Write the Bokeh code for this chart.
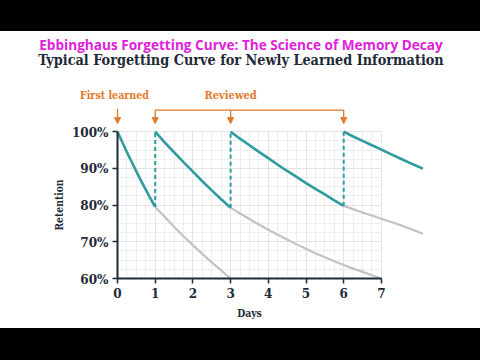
from bokeh.plotting import figure
from bokeh.models import (Label, Arrow, NormalHead, SingleIntervalTicker,
                          PrintfTickFormatter, Range1d, Div)
from bokeh.layouts import column
from bokeh.embed import file_html
from bokeh.resources import INLINE

# ---------------- data ----------------
# first learning (teal) and its forgetting without review (grey)
learn_days = [0, 0.125, 0.25, 0.375, 0.5, 0.625, 0.75, 0.875, 1.0]
learn_ret = [100, 97.2, 94.4, 91.8, 89.2, 86.6, 84.2, 81.8, 79.5]
forget1_days = [1, 1.25, 1.5, 1.75, 2, 2.25, 2.5, 2.75, 3]
forget1_ret = [79.5, 76.8, 74.1, 71.5, 69.1, 66.7, 64.4, 62.2, 60.0]

# after 1st review (day 1)
rev1_days = [1, 1.25, 1.5, 1.75, 2, 2.25, 2.5, 2.75, 3]
rev1_ret = [100, 97.1, 94.4, 91.7, 89.1, 86.5, 84.0, 81.6, 79.3]
forget2_days = [3, 3.25, 3.5, 3.75, 4, 4.25, 4.5, 4.75, 5, 5.25, 5.5, 5.75,
                6, 6.25, 6.5, 6.75, 7]
forget2_ret = [79.3, 77.7, 76.2, 74.7, 73.3, 71.9, 70.6, 69.3, 68.1, 66.9, 65.8,
               64.7, 63.7, 62.7, 61.8, 60.9, 60.0]

# after 2nd review (day 3)
rev2_days = [3, 3.25, 3.5, 3.75, 4, 4.25, 4.5, 4.75, 5, 5.25, 5.5, 5.75, 6]
rev2_ret = [100, 98.1, 96.3, 94.5, 92.8, 91.0, 89.3, 87.7, 86.0, 84.4, 82.9,
            81.3, 79.8]
forget3_days = [6, 6.5, 7, 7.5, 8, 8.1]
forget3_ret = [79.8, 78.0, 76.3, 74.6, 72.6, 72.2]

# after 3rd review (day 6)
rev3_days = [6, 6.25, 6.5, 6.75, 7, 7.25, 7.5, 7.75, 8, 8.1]
rev3_ret = [100, 98.7, 97.5, 96.3, 95.1, 93.9, 92.7, 91.5, 90.4, 89.9]

review_days = [1, 3, 6]
review_from = [79.5, 79.3, 79.8]
review_to = [100, 100, 100]

x_ticks_bounds = (0, 7)
y_ticks_bounds = (60, 100)

title_text = "Ebbinghaus Forgetting Curve: The Science of Memory Decay"
subtitle_text = "Typical Forgetting Curve for Newly Learned Information"
first_text = "First learned"
review_text = "Reviewed"

# ---------------- style ----------------
TEAL = "#2e9c9e"
GREY = "#c2c2c2"
ORANGE = "#e07a2c"
NAVY = "#1e2a38"
PINK = "#e021dc"
SLAB = "'DejaVu Serif Condensed', 'DejaVu Serif', serif"
SANS = "'Open Sans', 'Noto Sans', sans-serif"

p = figure(width=480, height=297,
           x_range=Range1d(-2.573, 9.098), y_range=Range1d(46.38, 127.3),
           output_backend="svg", toolbar_location=None, title=None,
           min_border_left=20, min_border_right=20, min_border_top=0,
           min_border_bottom=0)
p.outline_line_color = None
p.background_fill_color = "white"
p.border_fill_color = "white"

# axes
xt = SingleIntervalTicker(interval=1, num_minor_ticks=4)
yt = SingleIntervalTicker(interval=10, num_minor_ticks=4)
p.xaxis.ticker = xt
p.yaxis.ticker = yt
p.xaxis.bounds = x_ticks_bounds
p.yaxis.bounds = y_ticks_bounds
p.yaxis.fixed_location = 0
p.xaxis.fixed_location = 60
p.yaxis.formatter = PrintfTickFormatter(format="%d%%")
for ax in (p.xaxis[0], p.yaxis[0]):
    ax.axis_line_color = NAVY
    ax.axis_line_width = 2
    ax.major_tick_line_color = NAVY
    ax.major_tick_line_width = 1.5
    ax.major_tick_in = 0
    ax.major_tick_out = 5
    ax.minor_tick_line_color = None
    ax.major_label_text_font = SLAB
    ax.major_label_text_font_style = "bold"
    ax.major_label_text_font_size = "13.4px"
    ax.major_label_text_color = NAVY
    ax.major_label_standoff = 4
    ax.axis_label_text_font = SLAB
    ax.axis_label_text_font_style = "bold"
    ax.axis_label_text_font_size = "10.3px"
    ax.axis_label_text_color = NAVY
p.xaxis.axis_label = "Days"
p.yaxis.axis_label = "Retention"
p.xaxis.axis_label_standoff = 6
p.yaxis.axis_label_standoff = 4

# grid
p.xgrid.ticker = xt
p.ygrid.ticker = yt
p.xgrid.bounds = x_ticks_bounds
p.ygrid.bounds = y_ticks_bounds
p.xgrid.cross_bounds = y_ticks_bounds
p.ygrid.cross_bounds = x_ticks_bounds
for g in (p.xgrid[0], p.ygrid[0]):
    g.grid_line_color = "#e3e3e3"
    g.grid_line_width = 1
    g.minor_grid_line_color = "#eeeeee"
    g.minor_grid_line_width = 1

# grey "no review" curves
for xs, ys in ((forget1_days, forget1_ret), (forget2_days, forget2_ret),
               (forget3_days, forget3_ret)):
    p.line(xs, ys, line_color=GREY, line_width=2.2)

# dashed review jumps
p.segment(x0=review_days, y0=review_from, x1=review_days, y1=review_to,
          line_color=TEAL, line_width=2, line_dash="4 3")

# teal retention curves
for xs, ys in ((learn_days, learn_ret), (rev1_days, rev1_ret),
               (rev2_days, rev2_ret), (rev3_days, rev3_ret)):
    p.line(xs, ys, line_color=TEAL, line_width=2.6)

# annotations
ARROW_TOP = 106.2
BRACKET_Y = 105.9
ARROW_TIP = 102.2
head = dict(size=6, fill_color=ORANGE, line_color=ORANGE)
p.add_layout(Arrow(x_start=0, y_start=ARROW_TOP, x_end=0, y_end=ARROW_TIP,
                   end=NormalHead(**head), line_color=ORANGE, line_width=1.3))
p.segment(x0=[review_days[0]], y0=[BRACKET_Y], x1=[review_days[-1]], y1=[BRACKET_Y],
          line_color=ORANGE, line_width=1.3)
for d in review_days:
    p.add_layout(Arrow(x_start=d, y_start=BRACKET_Y, x_end=d, y_end=ARROW_TIP,
                       end=NormalHead(**head), line_color=ORANGE, line_width=1.3))

lab_style = dict(text_font=SLAB, text_font_style="bold", text_font_size="10.6px",
                 text_color=ORANGE, text_align="center", text_baseline="middle")
p.add_layout(Label(x=0, y=110.1, x_offset=-3, text=first_text, **lab_style))
p.add_layout(Label(x=review_days[1], y=109.9, text=review_text,
                   **dict(lab_style, text_font_size="11px")))

# titles
p.add_layout(Label(x=3.276, y=123.7, text=title_text, text_font=SANS,
                   text_font_style="bold", text_font_size="13.6px", text_color=PINK,
                   text_align="center", text_baseline="middle"))
p.add_layout(Label(x=3.276, y=119.6, text=subtitle_text, text_font=SLAB,
                   text_font_style="bold", text_font_size="14.3px", text_color=NAVY,
                   text_align="center", text_baseline="middle"))

top_bar = Div(text="", width=480, height=31, margin=0,
              styles={"background-color": "black"})
bot_bar = Div(text="", width=480, height=32, margin=0,
              styles={"background-color": "black"})
layout = column(top_bar, p, bot_bar, spacing=0)

open("out.html", "w").write(file_html(layout, INLINE))
